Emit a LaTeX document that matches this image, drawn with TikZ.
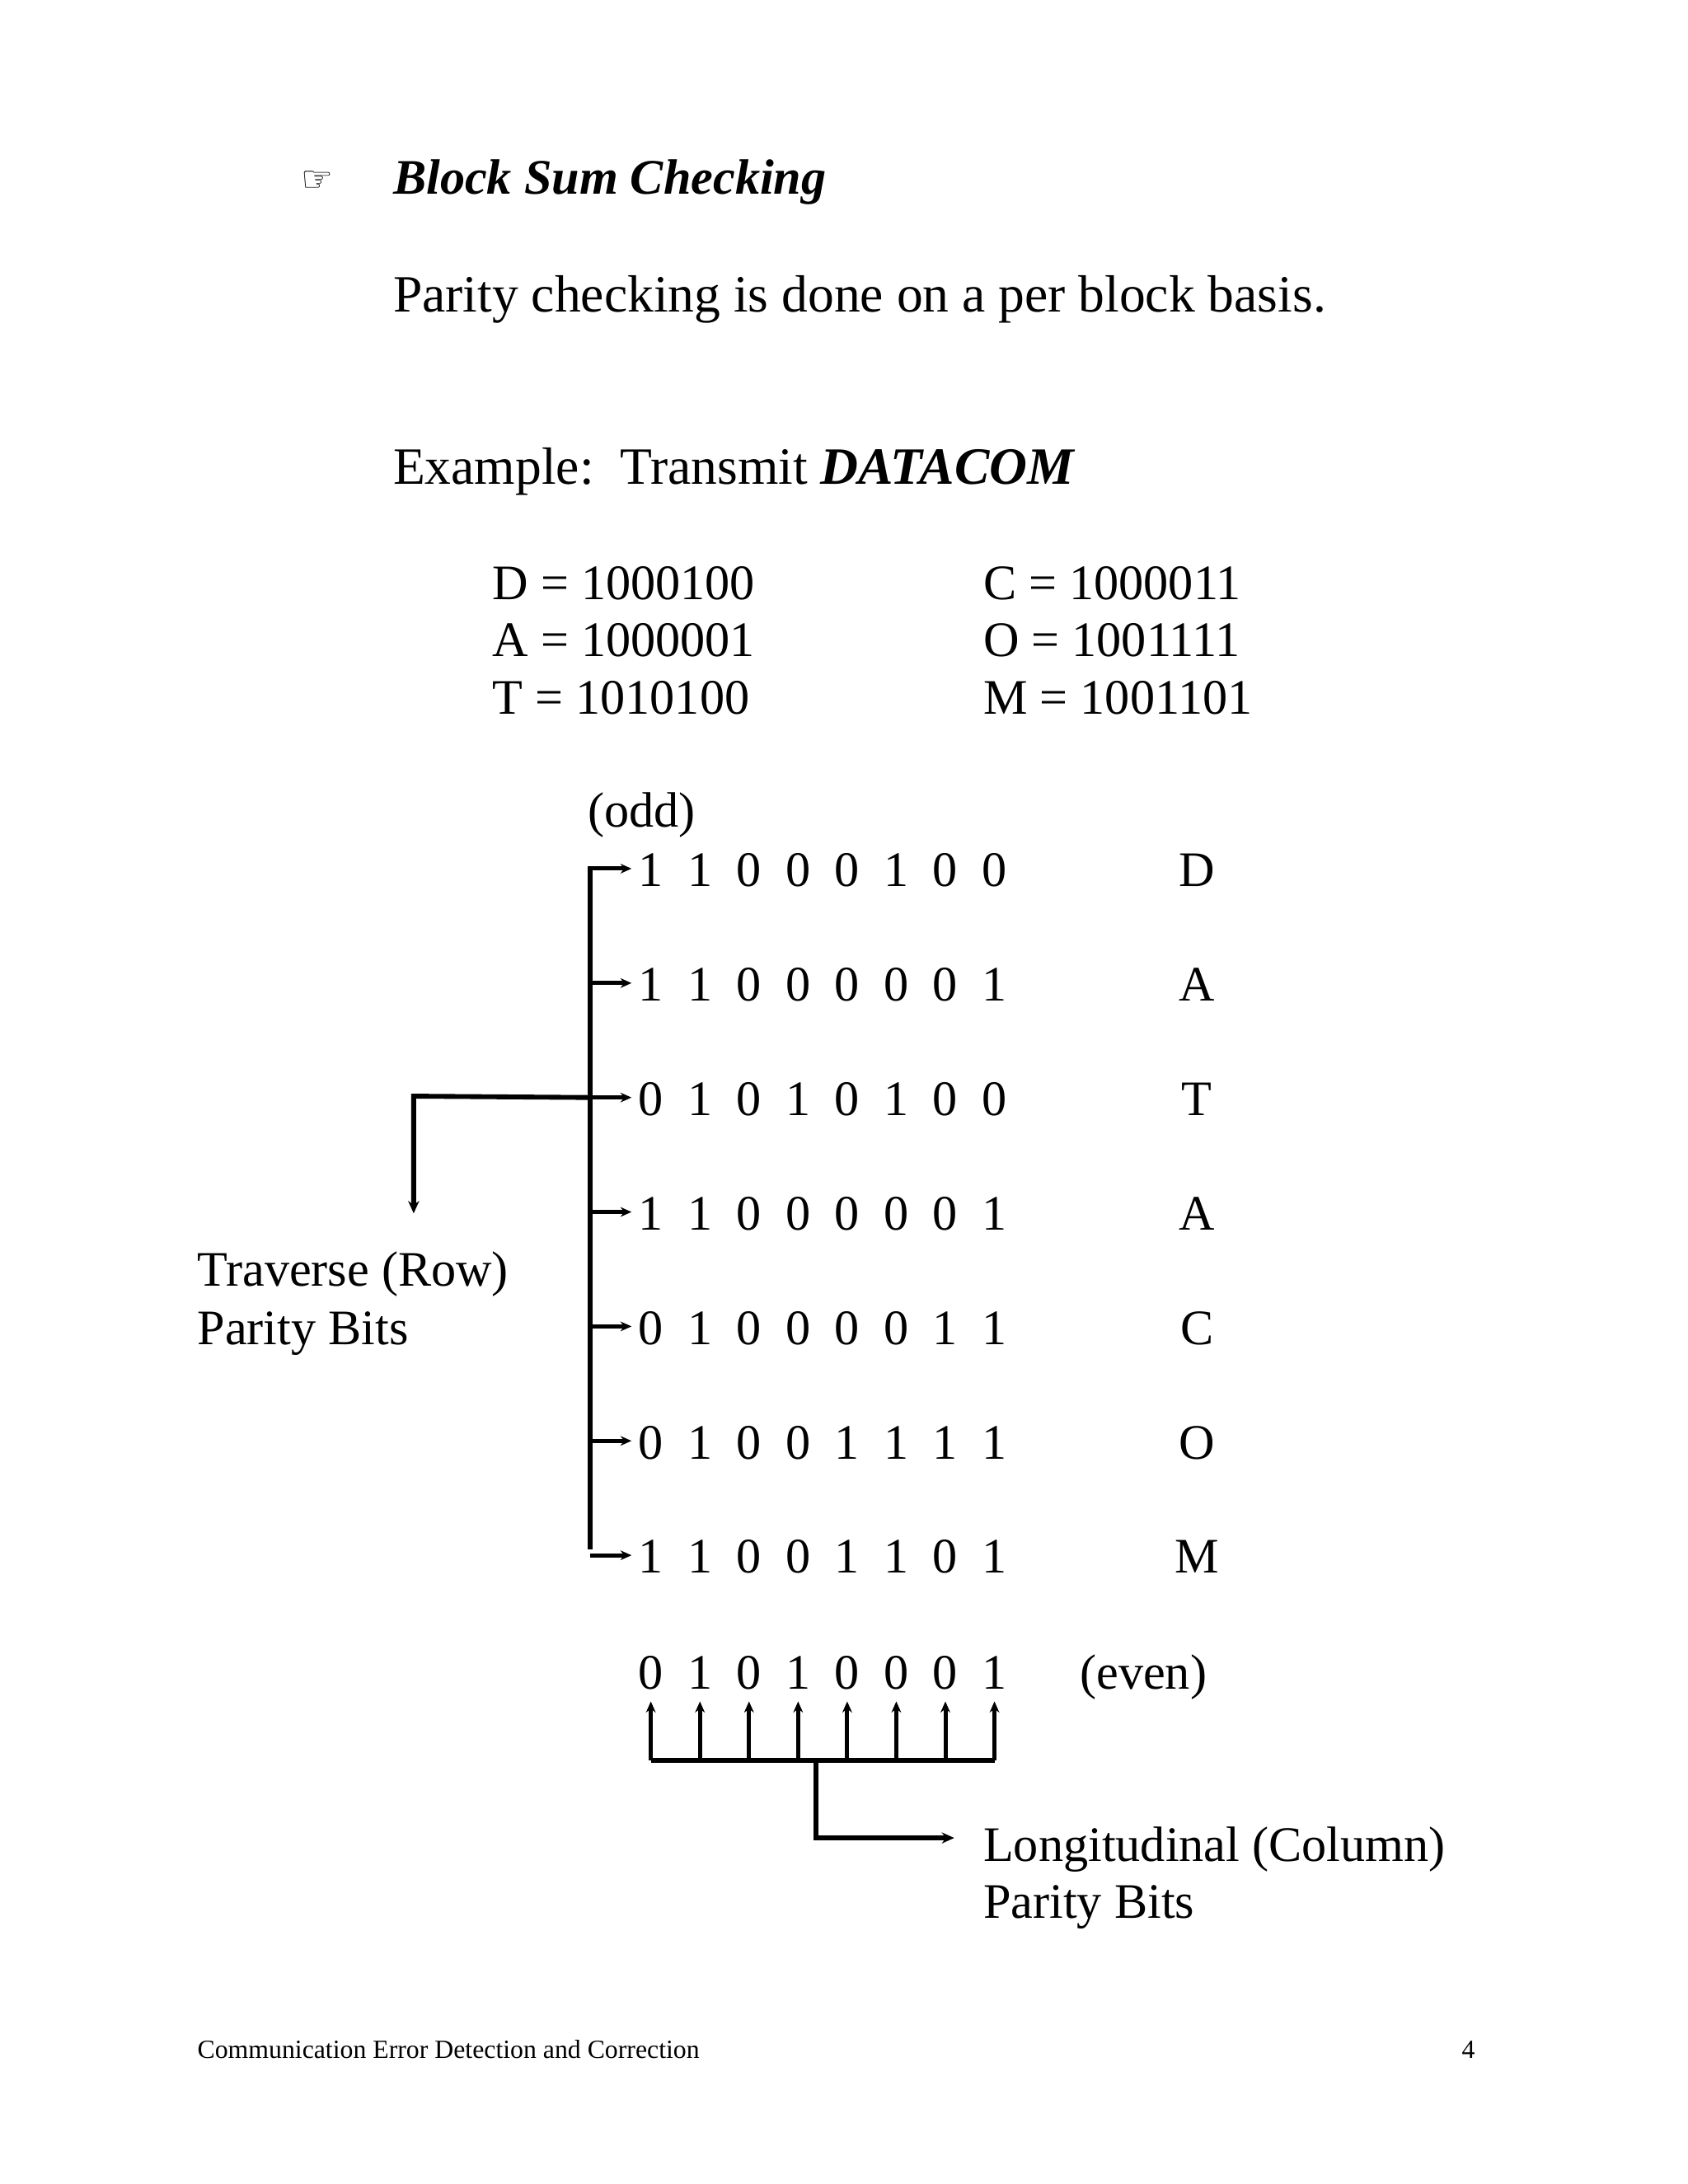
\documentclass[tikz,border=0pt]{standalone}
\usepackage{fontspec}
\setmainfont{Liberation Serif}
\newfontfamily\symfont{DejaVu Sans}
\usetikzlibrary{arrows.meta}
\begin{document}
\begin{tikzpicture}[x=1pt,y=-1pt,
  txt/.style={anchor=base west,inner sep=0pt,font=\fontsize{36}{40}\selectfont},
  big/.style={anchor=base west,inner sep=0pt,font=\fontsize{38}{42}\selectfont},
  dig/.style={anchor=base,inner sep=0pt,font=\fontsize{36}{40}\selectfont},
  foot/.style={anchor=base west,inner sep=0pt,font=\fontsize{19}{22}\selectfont},
  ln/.style={line width=3.5pt},
  arr/.style={line width=3pt,-{Stealth[length=8pt,width=7pt]}}]
\useasboundingbox (0,0) rectangle (1224,1584);
\node[anchor=base west,inner sep=0pt,font=\symfont\fontsize{26}{30}\selectfont] (hand) at (218,139) {☞};
\node[big,font=\fontsize{36}{40}\selectfont\bfseries\itshape] (title) at (285,141) {Block Sum Checking};
\node[big] (p1) at (285,226) {Parity checking is done on a per block basis.};
\node[big] (ex) at (285,351) {Example:\ \ Transmit \textbf{\textit{DATACOM}}};
\node[txt] (d) at (357,435) {D = 1000100};
\node[txt] (a) at (357,476) {A = 1000001};
\node[txt] (t) at (357,518) {T = 1010100};
\node[txt] (c) at (713,435) {C = 1000011};
\node[txt] (o) at (713,476) {O = 1001111};
\node[txt] (m) at (713,518) {M = 1001101};
\node[txt] (odd) at (426,600) {(odd)};
\foreach \r/\ba/\bb/\bc/\bd/\be/\bf/\bg/\bh/\L [count=\i] in {
  630/1/1/0/0/0/1/0/0/D, 713/1/1/0/0/0/0/0/1/A, 796/0/1/0/1/0/1/0/0/T,
  879/1/1/0/0/0/0/0/1/A, 962/0/1/0/0/0/0/1/1/C, 1045/0/1/0/0/1/1/1/1/O,
  1128/1/1/0/0/1/1/0/1/M, 1212/0/1/0/1/0/0/0/1/{}}{
  \foreach \v [count=\k from 0] in {\ba,\bb,\bc,\bd,\be,\bf,\bg,\bh}{
    \node[dig] (b\i-\k) at ({472+35.6*\k},\r+13) {\v};
  }
  \node[dig] (L\i) at (868,\r+13) {\L};
}
\node[txt] (even) at (783,1225) {(even)};
% vertical bar and row arrows
\coordinate (vt) at (428,628);
\coordinate (vb) at (428,1124);
\draw[ln] (vt) -- (vb);
\foreach \r [count=\i] in {630,713,796,879,962,1045,1128}{
  \coordinate (s\i) at (428,\r);
  \coordinate (e\i) at (458,\r);
  \draw[arr] (s\i) -- (e\i);
}
\coordinate (lk) at (300,795);
\coordinate (ld) at (300,880);
\draw[ln,-{Stealth[length=9pt,width=8pt]}] (s3) -- (lk) -- (ld);
\node[txt] (tr1) at (143,933) {Traverse (Row)};
\node[txt] (tr2) at (143,975) {Parity Bits};
% column arrows
\foreach \k in {0,...,7}{
  \coordinate (cb\k) at ({472+35.6*\k},1277);
  \coordinate (ct\k) at ({472+35.6*\k},1234);
  \draw[arr] (cb\k) -- (ct\k);
}
\draw[ln] (cb0) -- (cb7);
\coordinate (cm) at (592,1277);
\coordinate (cc) at (592,1333);
\coordinate (ce) at (692,1333);
\draw[ln,-{Stealth[length=9pt,width=8pt]}] (cm) -- (cc) -- (ce);
\node[txt] (lo1) at (713,1350) {Longitudinal (Column)};
\node[txt] (lo2) at (713,1391) {Parity Bits};
\node[foot] (f1) at (143,1493) {Communication Error Detection and Correction};
\node[foot] (f2) at (1060,1493) {4};
\end{tikzpicture}
\end{document}
